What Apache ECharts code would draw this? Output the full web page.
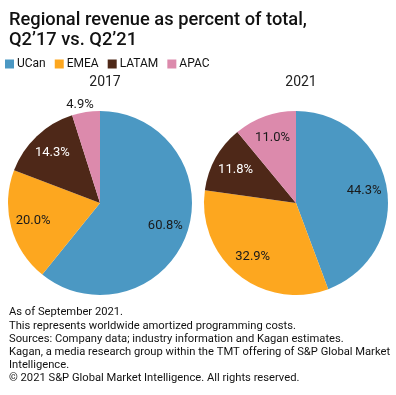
<!DOCTYPE html>
<html>
<head>
<meta charset="utf-8">
<script src="https://cdn.jsdelivr.net/npm/echarts@6/dist/echarts.min.js"></script>
<style>html,body{margin:0;padding:0;background:#fff}#c{width:396px;height:395px}</style>
</head>
<body>
<div id="c"></div>
<script>
const categories = ['UCan', 'EMEA', 'LATAM', 'APAC'];
const values2017 = [60.8, 20.0, 14.3, 4.9];
const values2021 = [44.3, 32.9, 11.8, 11.0];
const years = ['2017', '2021'];
const colors = ['#4b98c3', '#fda71f', '#4e2818', '#dc8aac'];
const labelColors = ['#1a1a1a', '#1a1a1a', '#ffffff', '#1a1a1a'];
const footerLines = [
  'As of September 2021.',
  'This represents worldwide amortized programming costs.',
  'Sources: Company data; industry information and Kagan estimates.',
  'Kagan, a media research group within the TMT offering of S&P Global Market',
  'Intelligence.',
  '\u00a9 2021 S&P Global Market Intelligence. All rights reserved.'
];

const FONT = 'Roboto';
const centers = [[100, 203], [296, 203]];
const R = 92;

function mainSeries(vals, center) {
  return {
    type: 'pie', center: center, radius: [0, R], startAngle: 90, clockwise: true,
    silent: true, animation: false,
    label: { show: false }, labelLine: { show: false },
    data: categories.map((n, i) => ({ name: n, value: vals[i], itemStyle: { color: colors[i] } }))
  };
}
function labelSeries(vals, center) {
  return {
    type: 'pie', center: center, radius: [R * 0.44, R], startAngle: 90, clockwise: true,
    silent: true, animation: false, legendHoverLink: false,
    itemStyle: { color: 'rgba(0,0,0,0)' },
    labelLine: { show: false, length: 7, length2: -14 },
    data: categories.map((n, i) => {
      const small = vals[i] < 8;
      return {
        name: n, value: vals[i],
        itemStyle: { color: 'rgba(0,0,0,0)' },
        label: {
          show: true,
          position: small ? 'outside' : 'inside',
          formatter: vals[i].toFixed(1) + '%',
          color: small ? '#1a1a1a' : labelColors[i],
          fontFamily: FONT, fontSize: 13
        }
      };
    })
  };
}

const chart = echarts.init(document.getElementById('c'), null, { renderer: 'canvas' });
chart.setOption({
  animation: false,
  title: [
    { text: 'Regional revenue as percent of total,\nQ2\u201917 vs. Q2\u201921', left: 4, top: 5,
      textStyle: { fontFamily: FONT, fontSize: 18.3, fontWeight: 500, color: '#111', lineHeight: 20 } },
    { text: years[0], left: centers[0][0], top: 70, textAlign: 'center',
      textStyle: { fontFamily: FONT, fontSize: 14, fontWeight: 'normal', color: '#222' } },
    { text: years[1], left: centers[1][0], top: 70, textAlign: 'center',
      textStyle: { fontFamily: FONT, fontSize: 14, fontWeight: 'normal', color: '#222' } },
    { text: footerLines.join('\n'), left: 4, top: 301,
      textStyle: { fontFamily: FONT, fontSize: 11.2, fontWeight: 'normal', color: '#111', lineHeight: 13.2 } }
  ],
  legend: {
    left: 0, top: 53, icon: 'rect', itemWidth: 9, itemHeight: 9, itemGap: 9,
    selectedMode: false, data: categories,
    textStyle: { fontFamily: FONT, fontSize: 12, color: '#111', padding: [0, 0, 0, -2] }
  },
  series: [
    mainSeries(values2017, centers[0]), mainSeries(values2021, centers[1]),
    labelSeries(values2017, centers[0]), labelSeries(values2021, centers[1])
  ]
});
</script>
</body>
</html>
